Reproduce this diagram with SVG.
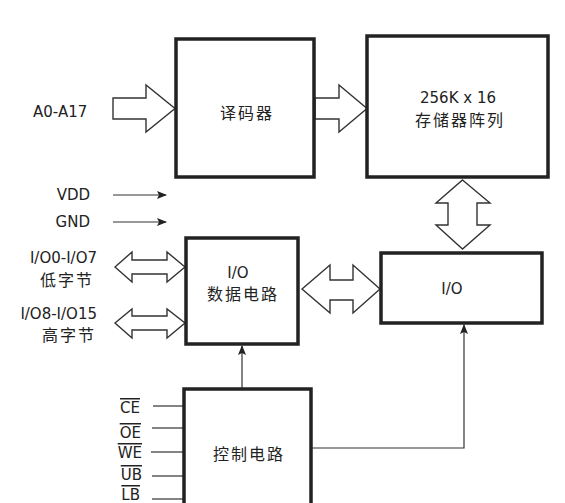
<svg xmlns="http://www.w3.org/2000/svg" width="565" height="503" viewBox="0 0 565 503">
<style>
.box{fill:#fff;stroke:#222;stroke-width:3.5}
.fat{fill:#fff;stroke:#333;stroke-width:1.4;stroke-linejoin:miter}
.ln{fill:none;stroke:#333;stroke-width:1.2}
text{font-family:"DejaVu Sans","Noto Sans CJK SC",sans-serif;font-size:15px;fill:#222}
.cj{font-family:"Noto Sans CJK SC",sans-serif;font-size:16px;letter-spacing:2px}
.m{text-anchor:middle}
.e{text-anchor:end}
.ov{text-decoration:overline}
</style>
<defs>
<marker id="ah" markerWidth="10" markerHeight="8" refX="9" refY="4" orient="auto" markerUnits="userSpaceOnUse">
<path d="M0,0 L10,4 L0,8 L2,4 Z" fill="#222"/>
</marker>
</defs>
<rect width="565" height="503" fill="#fff"/>
<g id="connectors">
<polygon class="fat" points="113,98 146,98 146,85 175,108.5 146,132 146,119 113,119"/>
<polygon class="fat" points="315,98 339,98 339,85 367,108.5 339,132 339,119 315,119"/>
<polygon class="fat" points="462.5,180 490,203 477,203 477,225 490,225 462.5,249 436,225 448,225 448,203 436,203"/>
<polygon class="fat" points="302,289 330,265 330,280 353,280 353,265 380,289 353,313 353,300 330,300 330,313"/>
<polygon class="fat" points="115,267 132,252 132,260 167,260 167,252 185,267 167,282 167,274 132,274 132,282"/>
<polygon class="fat" points="115,323 132,309 132,316 167,316 167,309 185,323 167,338 167,330 132,330 132,338"/>
<line class="ln" x1="113" y1="195" x2="166" y2="195" marker-end="url(#ah)"/>
<line class="ln" x1="113" y1="222" x2="166" y2="222" marker-end="url(#ah)"/>
<line class="ln" x1="242" y1="388" x2="242" y2="346" marker-end="url(#ah)"/>
<polyline class="ln" points="311,448 464,448 464,325" marker-end="url(#ah)"/>
<line class="ln" x1="153" y1="406" x2="183" y2="406"/>
<line class="ln" x1="152" y1="428" x2="183" y2="428"/>
<line class="ln" x1="151" y1="452" x2="183" y2="452"/>
<line class="ln" x1="152" y1="476" x2="183" y2="476"/>
<line class="ln" x1="152" y1="499" x2="183" y2="499"/>
</g>
<g id="decoder">
<rect class="box" x="176" y="39" width="138" height="138"/>
<text class="m cj" x="247" y="119">译码器</text>
</g>
<g id="array">
<rect class="box" x="367" y="36" width="181" height="141"/>
<text class="m" x="458" y="103">256K x 16</text>
<text class="m cj" x="460" y="126">存储器阵列</text>
</g>
<g id="io">
<rect class="box" x="381" y="253" width="161" height="70"/>
<text class="m" x="452" y="294">I/O</text>
</g>
<g id="iodata">
<rect class="box" x="186" y="238" width="112" height="106"/>
<text class="m" x="238" y="278">I/O</text>
<text class="m cj" x="243" y="300">数据电路</text>
</g>
<g id="control">
<rect class="box" x="184" y="389" width="127" height="120"/>
<text class="m cj" x="249" y="460">控制电路</text>
</g>
<g id="labels">
<text x="33" y="117">A0-A17</text>
<text class="e" x="90" y="200">VDD</text>
<text class="e" x="90" y="227">GND</text>
<text class="e" x="97" y="263">I/O0-I/O7</text>
<text class="e cj" x="94" y="286">低字节</text>
<text class="e" x="97" y="319">I/O8-I/O15</text>
<text class="e cj" x="96" y="341">高字节</text>
<text class="e ov" x="140" y="413">CE</text>
<text class="e ov" x="141" y="438">OE</text>
<text class="e ov" x="142" y="458">WE</text>
<text class="e ov" x="142" y="480">UB</text>
<text class="e ov" x="140" y="500">LB</text>
</g>
</svg>
